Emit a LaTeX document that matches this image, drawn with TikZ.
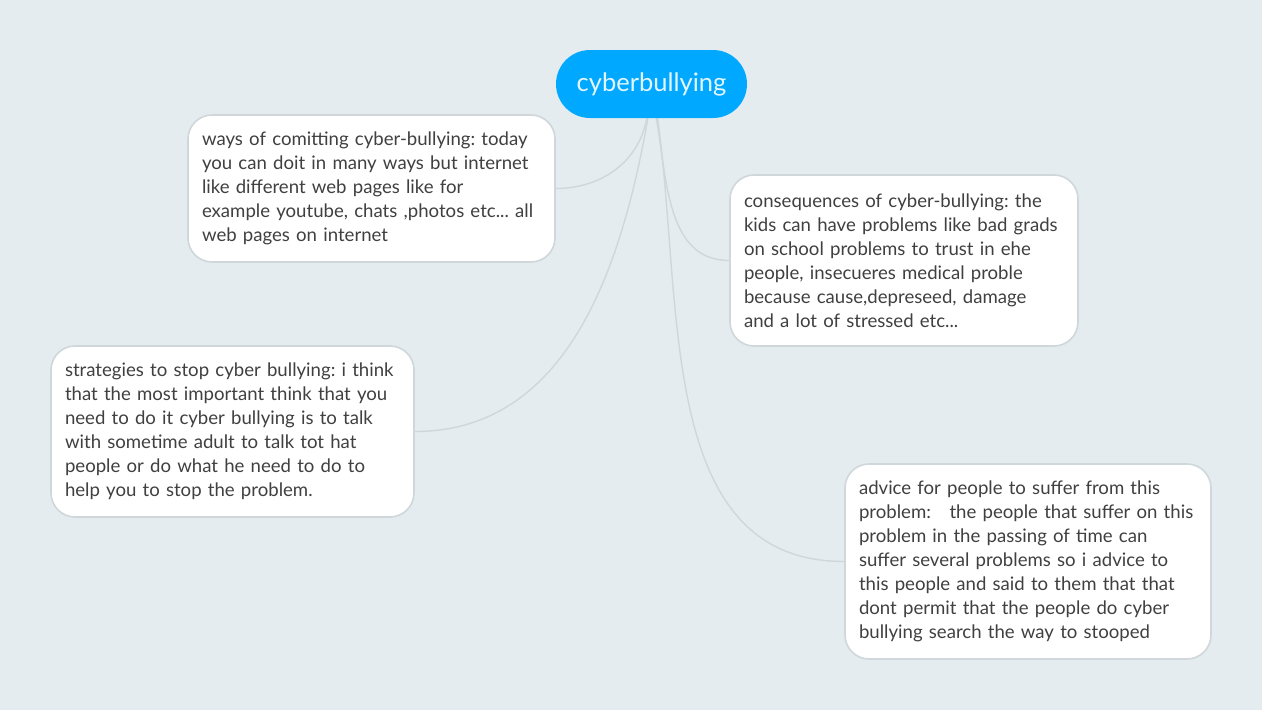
\documentclass[tikz,border=0pt]{standalone}
\usepackage{fontspec}
\setmainfont{Lato}
\usetikzlibrary{positioning,backgrounds}
\definecolor{bgcol}{HTML}{E5ECEF}
\definecolor{rootcol}{HTML}{00A9FF}
\definecolor{roottext}{HTML}{E3F5FF}
\definecolor{edgecol}{HTML}{CFD7DB}
\definecolor{txtcol}{HTML}{404040}
\frenchspacing
\hyphenpenalty=10000

\begin{document}
\begin{tikzpicture}
    [x=1pt, y=-1pt,
    topic/.style={fill=rootcol, text=roottext, rounded corners=34pt,
      minimum width=191pt, minimum height=68pt, font=\fontsize{25.5}{28}\selectfont},
    leaf/.style={draw=edgecol, line width=1.6pt, fill=white, rounded corners=24pt,
      text=txtcol, align=left, inner xsep=14pt, inner ysep=12pt,
      font=\fontsize{18.6}{24}\selectfont},
    link/.style={draw=edgecol, line width=1.4pt}]
    \useasboundingbox (0,0) rectangle (1262,710);
    \node[topic] (root) at (651.5,84) {\raisebox{-2.5pt}{cyberbullying}};
    \node[leaf, text width=339pt, minimum height=147pt] (ways) at (371.5,188.5)
      {ways of comitting cyber-bullying: today\\
       you can doit in many ways but internet\\
       like different web pages like for\\
       example youtube, chats ,photos etc... all\\
       web pages on internet};
    \node[leaf, text width=320pt, minimum height=171pt] (cons) at (904,260.5)
      {consequences of cyber-bullying: the\\
       kids can have problems like bad grads\\
       on school problems to trust in ehe\\
       people, insecueres medical proble\\
       because cause,depreseed, damage\\
       and a lot of stressed etc...};
    \node[leaf, text width=335pt, minimum height=171pt] (strat) at (232.5,431.5)
      {strategies to stop cyber bullying: i think\\
       that the most important think that you\\
       need to do it cyber bullying is to talk\\
       with sometime adult to talk tot hat\\
       people or do what he need to do to\\
       help you to stop the problem.};
    \node[leaf, text width=338pt, minimum height=195pt] (advice) at (1028,561.5)
      {advice for people to suffer from this\\
       problem:\ \ \ the people that suffer on this\\
       problem in the passing of time can\\
       suffer several problems so i advice to\\
       this people and said to them that that\\
       dont permit that the people do cyber\\
       bullying search the way to stooped};
    % connectors from the central topic, behind the nodes
    \begin{pgfonlayer}{background}
      \fill[bgcol] (0,0) rectangle (1262,710);
      \draw[link] (root.-98) to[out=-100, in=0] (ways.east);
      \draw[link] (root.-96) to[out=-100, in=0] (strat.east);
      \draw[link] (root.-82) to[out=-80, in=180] (cons.west);
      \draw[link] (root.-80) to[out=-82, in=180] (advice.west);
    \end{pgfonlayer}
\end{tikzpicture}
\end{document}
